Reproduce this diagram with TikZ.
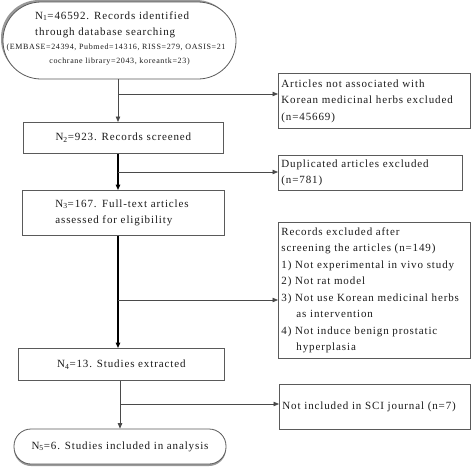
\documentclass[tikz,border=0pt]{standalone}
\usepackage{fontspec}
\setmainfont{Liberation Serif}[LetterSpace=8]
\usetikzlibrary{arrows.meta,shadows}
\definecolor{boxgray}{HTML}{5A5A5A}
\definecolor{linegray}{HTML}{4A4A4A}
\definecolor{txt}{HTML}{1A1A1A}
\begin{document}
\begin{tikzpicture}[x=1pt,y=-1pt,
  box/.style={draw=boxgray, line width=0.8pt, fill=white, rectangle, anchor=north west,
    inner xsep=3pt, inner ysep=2pt, font=\fontsize{11}{16.5}\selectfont, text=txt},
  rbox/.style={box, align=left},
  stadium/.style={box, anchor=center},
  srctext/.style={font=\fontsize{11}{13}\selectfont, text=txt, inner sep=0pt},
  srcsmall/.style={font=\fontsize{8}{10}\selectfont, text=txt, inner sep=0pt},
  thinline/.style={draw=linegray, line width=0.7pt},
  thickline/.style={draw=black, line width=1.3pt},
  tip/.style={-{Triangle[length=5.5pt,width=4.5pt]}}]
\useasboundingbox[fill=white] (0,0) rectangle (474,466);

% source box
\node[stadium, minimum width=233pt, minimum height=77pt, rounded corners=38pt,
  drop shadow={shadow xshift=-2pt, shadow yshift=2pt, fill=gray!80, opacity=1}]
  (src) at (119.5,40.5) {};
\node[srctext, anchor=west] (s1) at (35,16) {N\textsubscript{1}=46592. Records identified};
\node[srctext, anchor=west] (s2) at (35,33) {through database searching};
\node[srcsmall] (s3) at (116,48) {(EMBASE=24394, Pubmed=14316, RISS=279, OASIS=21};
\node[srcsmall] (s4) at (119.5,62) {cochrane library=2043, koreantk=23)};

% main column
\node[box, minimum width=200pt, minimum height=31pt] (n2) at (23,122) {N\textsubscript{2}=923. Records screened};
\node[box, minimum width=202pt, minimum height=45pt, text width=136pt, align=left] (n3) at (22,190)
  {N\textsubscript{3}=167. Full-text articles\\assessed for eligibility};
\node[box, minimum width=206pt, minimum height=32pt] (n4) at (18,348) {N\textsubscript{4}=13. Studies extracted};
\node[stadium, minimum width=212pt, minimum height=35pt, rounded corners=17pt,
  drop shadow={shadow xshift=0pt, shadow yshift=-2pt, fill=gray!80, opacity=1}]
  (n5) at (120,446.5) {N\textsubscript{5}=6. Studies included in analysis};

% exclusion boxes
\node[rbox, minimum width=192pt, minimum height=55pt, text width=186pt] (ex1) at (278,73)
  {Articles not associated with\\Korean medicinal herbs excluded\\(n=45669)};
\node[rbox, minimum width=184pt, minimum height=35pt, text width=178pt] (ex2) at (278,155)
  {Duplicated articles excluded\\(n=781)};
\node[rbox, minimum width=192pt, minimum height=136pt, text width=186pt] (ex3) at (278,222)
  {Records excluded after\\screening the articles (n=149)\\1) Not experimental in vivo study\\2) Not rat model\\3) Not use Korean medicinal herbs\\\hspace*{15pt}as intervention\\4) Not induce benign prostatic\\\hspace*{15pt}hyperplasia};
\node[rbox, minimum width=191pt, minimum height=45pt, text width=185pt] (ex4) at (279,384)
  {Not included in SCI journal (n=7)};

% branch points
\coordinate (b1) at (118,94);
\coordinate (b2) at (118,172);
\coordinate (b3) at (118,300);
\coordinate (b4) at (120,404);

\draw[thinline] (src.south -| b1) -- (b1);
\draw[thinline, tip] (b1) -- (n2.north -| b1);
\draw[thinline, tip] (b1) -- (ex1.west |- b1);

\draw[thickline] (n2.south -| b2) -- (b2);
\draw[thickline, tip] (b2) -- (n3.north -| b2);
\draw[thinline, tip] (b2) -- (ex2.west |- b2);

\draw[thickline] (n3.south -| b3) -- (b3);
\draw[thickline, tip] (b3) -- (n4.north -| b3);
\draw[thinline, tip] (b3) -- (ex3.west |- b3);

\draw[thinline] (n4.south -| b4) -- (b4);
\draw[thinline, tip] (b4) -- (n5.north -| b4);
\draw[thinline, tip] (b4) -- (ex4.west |- b4);
\end{tikzpicture}
\end{document}
